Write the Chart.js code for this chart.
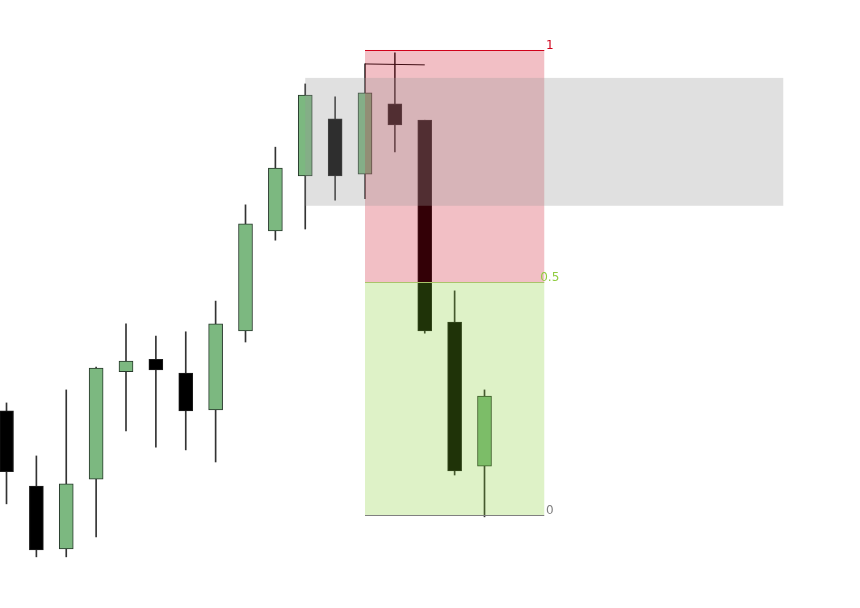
<!DOCTYPE html>
<html>
<head>
<meta charset="utf-8">
<script src="https://cdn.jsdelivr.net/npm/chart.js@4"></script>
<style>
html,body{margin:0;padding:0;background:#fff;}
#wrap{width:860px;height:608px;}
</style>
</head>
<body>
<div id="wrap"><canvas id="c" width="860" height="608"></canvas></div>
<script>
// Candle data (index, open, high, low, close)
const candleIndex = [0,1,2,3,4,5,6,7,8,9,10,11,12,13,14,15,16];
const opens  = [22.4, 6.2, -7.3, 7.7, 30.8, 33.5, 30.5, 22.6, 39.6, 61.1, 72.9, 85.2, 73.3, 88.4, 84.9, 41.5, 10.5];
const highs  = [24.1, 12.7, 26.9, 31.8, 41.1, 38.5, 39.4, 46.0, 66.7, 79.1, 92.7, 89.9, 97.0, 99.4, 84.9, 48.2, 26.9];
const lows   = [2.4, -9.0, -9.0, -4.7, 18.1, 14.6, 14.0, 11.4, 37.2, 59.1, 61.5, 67.7, 68.0, 78.1, 39.1, 8.6, -0.4];
const closes = [9.3, -7.5, 6.7, 31.6, 33.1, 31.2, 22.4, 41.1, 62.6, 74.6, 90.3, 72.9, 90.8, 83.9, 39.6, 9.5, 25.6];

// Fibonacci retracement
const fibLevels = [1, 0.5, 0];
const fibLabels = ['1', '0.5', '0'];
const fibStartX = 12, fibEndX = 18;
const fibLow = 0, fibHigh = 100;

// Grey zone [x1, x2, yLow, yHigh]
const greyZone = [10, 26, 66.5, 94.0];

// Trend line points
const trendX = [12, 14];
const trendY = [97.0, 96.8];

const GREEN = 'rgb(124,184,128)';
const wickData = candleIndex.map(i => ({x: i, y: [lows[i], highs[i]]}));
const bodyData = candleIndex.map(i => ({x: i, y: [Math.min(opens[i], closes[i]), Math.max(opens[i], closes[i])]}));
const bodyColors = candleIndex.map(i => closes[i] >= opens[i] ? GREEN : '#000000');
const bodyBorders = candleIndex.map(i => closes[i] >= opens[i] ? '#26382a' : '#1c1c1c');

const overlayPlugin = {
  id: 'overlay',
  afterDatasetsDraw(chart) {
    const ctx = chart.ctx;
    const xs = chart.scales.x, ys = chart.scales.y;
    const x1 = xs.getPixelForValue(fibStartX), x2 = xs.getPixelForValue(fibEndX);
    const lvlY = l => ys.getPixelForValue(fibLow + (fibHigh - fibLow) * l);
    ctx.save();
    // red zone (1 -> 0.5)
    ctx.fillStyle = 'rgba(204,0,24,0.25)';
    ctx.fillRect(x1, lvlY(1), x2 - x1, lvlY(0.5) - lvlY(1));
    // green zone (0.5 -> 0)
    ctx.fillStyle = 'rgba(124,204,32,0.25)';
    ctx.fillRect(x1, lvlY(0.5), x2 - x1, lvlY(0) - lvlY(0.5));
    // grey zone
    const gx1 = xs.getPixelForValue(greyZone[0]), gx2 = xs.getPixelForValue(greyZone[1]);
    const gy1 = ys.getPixelForValue(greyZone[3]), gy2 = ys.getPixelForValue(greyZone[2]);
    ctx.fillStyle = 'rgba(153,153,153,0.3)';
    ctx.fillRect(gx1, gy1, gx2 - gx1, gy2 - gy1);
    // level lines and labels
    const lineColors = ['#d0021b', '#a9c46a', '#808080'];
    const textColors = ['#d0021b', '#8fcc3f', '#808080'];
    ctx.font = '12px "DejaVu Sans", sans-serif';
    ctx.textAlign = 'center';
    ctx.textBaseline = 'alphabetic';
    fibLevels.forEach((l, k) => {
      const y = Math.round(lvlY(l)) + 0.5;
      ctx.strokeStyle = lineColors[k];
      ctx.lineWidth = 1;
      ctx.beginPath();
      ctx.moveTo(x1, y);
      ctx.lineTo(x2, y);
      ctx.stroke();
      ctx.fillStyle = textColors[k];
      ctx.fillText(fibLabels[k], x2 + 5.5, y - 2);
    });
    ctx.restore();
  }
};

new Chart(document.getElementById('c'), {
  type: 'bar',
  data: {
    datasets: [
      {
        type: 'line',
        data: trendX.map((x, k) => ({x: x, y: trendY[k]})),
        borderColor: '#111111',
        borderWidth: 1,
        pointRadius: 0,
        order: 0
      },
      {
        data: bodyData,
        backgroundColor: bodyColors,
        borderColor: bodyBorders,
        borderWidth: 1,
        borderSkipped: false,
        barThickness: 14,
        grouped: false,
        order: 1
      },
      {
        data: wickData,
        backgroundColor: '#333333',
        borderWidth: 0,
        barThickness: 1,
        grouped: false,
        order: 2
      }
    ]
  },
  options: {
    responsive: false,
    animation: false,
    layout: {padding: 0},
    plugins: {legend: {display: false}, tooltip: {enabled: false}, title: {display: false}},
    scales: {
      x: {type: 'linear', min: -0.2176, max: 28.569, display: false, offset: false, grid: {display: false}},
      y: {type: 'linear', min: -20, max: 110.75, display: false, grid: {display: false}}
    }
  },
  plugins: [overlayPlugin]
});
</script>
</body>
</html>
